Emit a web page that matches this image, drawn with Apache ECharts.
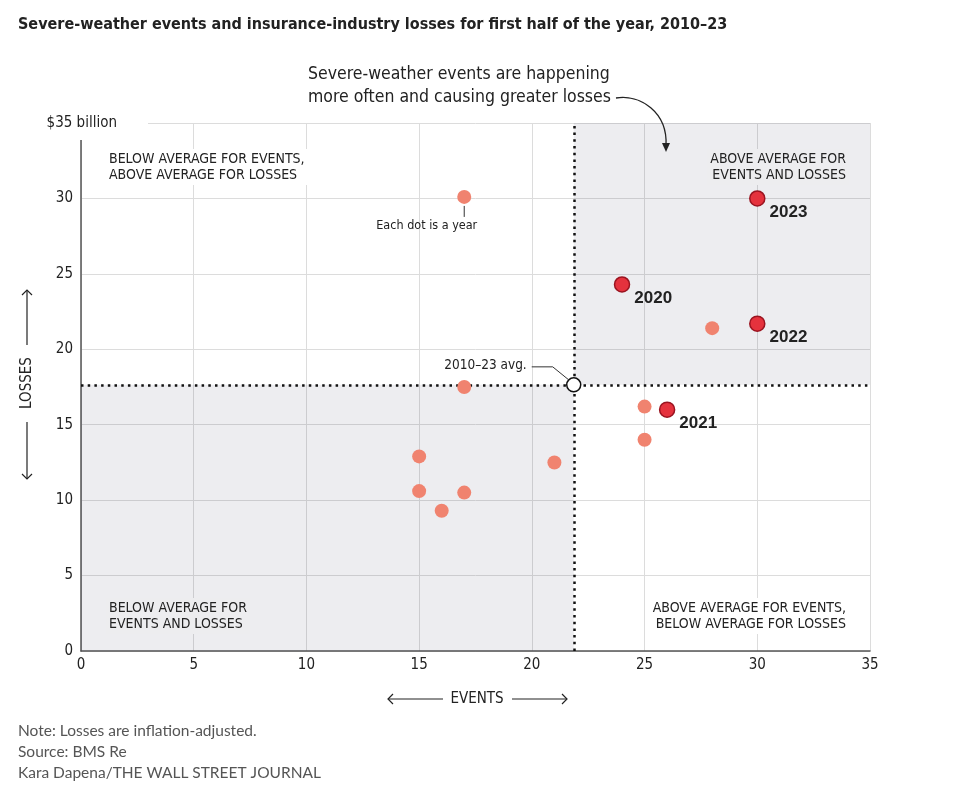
<!DOCTYPE html>
<html>
<head>
<meta charset="utf-8">
<script src="https://cdn.jsdelivr.net/npm/echarts@6/dist/echarts.min.js"></script>
<style>
html,body{margin:0;padding:0;background:#fff;}
#chart{width:980px;height:796px;}
</style>
</head>
<body>
<div id="chart"></div>
<script>
// ---- data ----
const titleText = 'Severe-weather events and insurance-industry losses for first half of the year, 2010\u201323';
const events = [17, 30, 24, 30, 28, 17, 25, 26, 25, 15, 21, 15, 17, 16];
const losses = [30.1, 30.0, 24.3, 21.7, 21.4, 17.5, 16.2, 16.0, 14.0, 12.9, 12.5, 10.6, 10.5, 9.3];
const yearLabels = ['', '2023', '2020', '2022', '', '', '', '2021', '', '', '', '', '', ''];
const quadrantLabels = {
  tl: 'BELOW AVERAGE FOR EVENTS,\nABOVE AVERAGE FOR LOSSES',
  tr: 'ABOVE AVERAGE FOR\nEVENTS AND LOSSES',
  bl: 'BELOW AVERAGE FOR\nEVENTS AND LOSSES',
  br: 'ABOVE AVERAGE FOR EVENTS,\n BELOW AVERAGE FOR LOSSES'
};
const notes = ['Note: Losses are inflation-adjusted.', 'Source: BMS Re', 'Kara Dapena/THE WALL STREET JOURNAL'];
const annotationText = 'Severe-weather events are happening\nmore often and causing greater losses';
const axisMax = 35;
const tickStep = 5;

// ---- derived ----
const avgEvents = events.reduce((a, b) => a + b, 0) / events.length;
const avgLosses = losses.reduce((a, b) => a + b, 0) / losses.length;
const regular = [], highlighted = [];
events.forEach((e, i) => {
  const d = { value: [e, losses[i]], name: yearLabels[i] };
  (yearLabels[i] ? highlighted : regular).push(d);
});

const NARROW = '"Liberation Sans Narrow", "DejaVu Sans Condensed", "Roboto", sans-serif';
const REG = 'Lato, "Noto Sans", sans-serif';
const shade = 'rgba(30,30,60,0.08)';
const shadeSolid = '#ededef';

const chart = echarts.init(document.getElementById('chart'), null, { renderer: 'canvas' });
const option = {
  animation: false,
  backgroundColor: '#fff',
  textStyle: { fontFamily: NARROW },
  grid: { left: 81, right: 110, top: 123, bottom: 145, containLabel: false },
  xAxis: {
    type: 'value', min: 0, max: axisMax, interval: tickStep,
    axisLine: { show: true, lineStyle: { color: '#555', width: 1.5 } },
    axisTick: { show: false },
    axisLabel: { color: '#222', fontSize: 15, margin: 7, fontFamily: NARROW },
    splitLine: { show: true, lineStyle: { color: '#dcdcdc', width: 1 } }
  },
  yAxis: {
    type: 'value', min: 0, max: axisMax, interval: tickStep,
    axisLine: { show: true, lineStyle: { color: '#555', width: 1.5 } },
    axisTick: { show: false },
    axisLabel: { color: '#222', fontSize: 15, margin: 8, fontFamily: NARROW,
      formatter: v => (v === axisMax ? '' : v) },
    splitLine: { show: true, lineStyle: { color: '#dcdcdc', width: 1 } }
  },
  series: [
    {
      type: 'scatter', data: [], silent: true,
      markArea: {
        silent: true,
        itemStyle: { color: shade },
        data: [
          [{ coord: [avgEvents, avgLosses] }, { coord: [axisMax, axisMax] }],
          [{ coord: [0, 0] }, { coord: [avgEvents, avgLosses] }]
        ]
      },
      markLine: {
        silent: true, symbol: 'none',
        label: { show: false },
        lineStyle: { color: '#111', type: [2.5, 4.2], width: 2.5, cap: 'butt' },
        data: [{ xAxis: avgEvents }, { yAxis: avgLosses }]
      }
    },
    {
      type: 'scatter', data: regular, symbolSize: 14, z: 5,
      itemStyle: { color: '#f0836f', opacity: 1 }
    },
    {
      type: 'scatter', data: highlighted, symbolSize: 15, z: 6,
      itemStyle: { color: '#e5323d', borderColor: '#9a1420', borderWidth: 1.5, opacity: 1 },
      label: {
        show: true, position: 'right', distance: 4, offset: [0, 14],
        formatter: p => p.name,
        fontFamily: '"Liberation Sans", "DejaVu Sans", sans-serif',
        fontWeight: 'bold', fontSize: 17, color: '#222'
      }
    },
    {
      type: 'scatter', data: [[avgEvents, avgLosses]], symbolSize: 14, z: 7,
      itemStyle: { color: '#fff', borderColor: '#111', borderWidth: 1.5, opacity: 1 }
    }
  ]
};
chart.setOption(option);

function px(pt) { return chart.convertToPixel({ gridIndex: 0 }, pt); }
const pAvg = px([avgEvents, avgLosses]);
const pEach = px([events[0], losses[0]]);
const pTop = px([0, axisMax]);
const pBot = px([axisMax, 0]);
const gL = pTop[0], gT = pTop[1], gR = pBot[0], gB = pBot[1];

function arrowHead(x, y, dir) {
  const s = 5;
  let pts;
  if (dir === 'up') pts = [[x - s, y + s], [x, y], [x + s, y + s]];
  if (dir === 'down') pts = [[x - s, y - s], [x, y], [x + s, y - s]];
  if (dir === 'left') pts = [[x + s, y - s], [x, y], [x + s, y + s]];
  if (dir === 'right') pts = [[x - s, y - s], [x, y], [x - s, y + s]];
  return { type: 'polyline', z: 100, shape: { points: pts }, style: { stroke: '#222', lineWidth: 1.2, fill: null } };
}
const qFont = { fontFamily: NARROW, fontSize: 14, fill: '#222', lineHeight: 16 };

const graphics = [
  { type: 'text', z: 100, left: 18, top: 17,
    style: { text: titleText, fontFamily: '"Liberation Sans Narrow", "DejaVu Sans Condensed", sans-serif', fontWeight: 'bold', fontSize: 16, fill: '#222' } },
  // $35 billion label with white mask
  { type: 'rect', z: 90, shape: { x: gL - 2, y: gT - 10, width: 148 - gL + 2, height: 17 + 10 }, style: { fill: '#fff' } },
  { type: 'text', z: 100, x: 117, y: gT, style: { text: '$35 billion', fontFamily: NARROW, fontSize: 15, fill: '#222', align: 'right', verticalAlign: 'middle' } },
  // quadrant labels
  { type: 'text', z: 100, x: 106, y: 149, style: Object.assign({ text: quadrantLabels.tl, align: 'left', backgroundColor: '#fff', padding: [2, 3] }, qFont) },
  { type: 'text', z: 100, x: 849, y: 149, style: Object.assign({ text: quadrantLabels.tr, align: 'right', backgroundColor: shadeSolid, padding: [2, 3] }, qFont) },
  { type: 'text', z: 100, x: 106, y: 598, style: Object.assign({ text: quadrantLabels.bl, align: 'left', backgroundColor: shadeSolid, padding: [2, 3] }, qFont) },
  { type: 'text', z: 100, x: 849, y: 598, style: Object.assign({ text: quadrantLabels.br, align: 'right', backgroundColor: '#fff', padding: [2, 3] }, qFont) },
  // annotation text
  { type: 'text', z: 100, x: 308, y: 63, style: { text: annotationText, fontFamily: NARROW, fontSize: 17.5, lineHeight: 23, fill: '#222' } },
  { type: 'bezierCurve', z: 100, shape: { x1: 616, y1: 98, cpx1: 640, cpy1: 94, cpx2: 668, cpy2: 112, x2: 666, y2: 146 }, style: { stroke: '#222', lineWidth: 1.3, fill: null } },
  { type: 'polygon', z: 100, shape: { points: [[662, 143], [670, 143], [666, 152]] }, style: { fill: '#222' } },
  // Each dot is a year
  { type: 'line', z: 100, shape: { x1: pEach[0], y1: pEach[1] + 9, x2: pEach[0], y2: pEach[1] + 20 }, style: { stroke: '#333', lineWidth: 1 } },
  { type: 'text', z: 100, x: pEach[0] + 13, y: pEach[1] + 29, style: { text: 'Each dot is a year', fontFamily: NARROW, fontSize: 12.5, fill: '#222', align: 'right', verticalAlign: 'middle' } },
  // avg label
  { type: 'text', z: 100, x: pAvg[0] - 47, y: pAvg[1] - 19, style: { text: '2010\u201323 avg.', fontFamily: NARROW, fontSize: 13.5, fill: '#222', align: 'right', verticalAlign: 'middle' } },
  { type: 'polyline', z: 100, shape: { points: [[pAvg[0] - 42, pAvg[1] - 18], [pAvg[0] - 21, pAvg[1] - 18], [pAvg[0] - 5, pAvg[1] - 5]] }, style: { stroke: '#333', lineWidth: 1, fill: null } },
  // LOSSES axis name
  { type: 'text', z: 100, x: 27, y: 383, rotation: Math.PI / 2, style: { text: 'LOSSES', fontFamily: NARROW, fontSize: 15, fill: '#222', align: 'center', verticalAlign: 'middle' } },
  { type: 'line', z: 100, shape: { x1: 27, y1: 345, x2: 27, y2: 290 }, style: { stroke: '#222', lineWidth: 1.2 } },
  arrowHead(27, 290, 'up'),
  { type: 'line', z: 100, shape: { x1: 27, y1: 422, x2: 27, y2: 479 }, style: { stroke: '#222', lineWidth: 1.2 } },
  arrowHead(27, 479, 'down'),
  // EVENTS axis name
  { type: 'text', z: 100, x: 477, y: 699, style: { text: 'EVENTS', fontFamily: NARROW, fontSize: 15, fill: '#222', align: 'center', verticalAlign: 'middle' } },
  { type: 'line', z: 100, shape: { x1: 443, y1: 699, x2: 388, y2: 699 }, style: { stroke: '#222', lineWidth: 1.2 } },
  arrowHead(388, 699, 'left'),
  { type: 'line', z: 100, shape: { x1: 512, y1: 699, x2: 567, y2: 699 }, style: { stroke: '#222', lineWidth: 1.2 } },
  arrowHead(567, 699, 'right')
];
notes.forEach((t, i) => {
  graphics.push({ type: 'text', z: 100, x: 18, y: 731 + i * 21, style: { text: t, fontFamily: REG, fontSize: 15.5, fill: '#555', verticalAlign: 'middle' } });
});
chart.setOption({ graphic: graphics });
</script>
</body>
</html>
